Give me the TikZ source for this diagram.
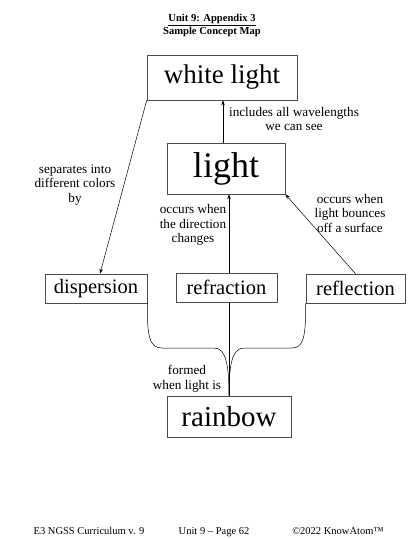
\documentclass[tikz,border=0pt]{standalone}
\usepackage{fontspec}
\setmainfont{Liberation Serif}
\usetikzlibrary{arrows.meta}
\def\fs#1#2{\fontsize{#1}{#2}\selectfont}

\begin{document}
\begin{tikzpicture}[x=1pt,y=-1pt,
		concept/.style={draw=black!70, line width=0.6pt, inner sep=0pt, align=center},
		note/.style={align=center, font=\fs{13.2}{14.5}},
		foot/.style={anchor=base, font=\fs{10.5}{12}},
		link/.style={line width=0.5pt, -{Stealth[length=5pt,width=3.5pt]}},
		brace/.style={line width=0.5pt}]
			%%%%% START %%%%%
			\useasboundingbox (0,0) rectangle (418,539);
			
			% heading
			\node[font=\bfseries\fs{10.6}{13}, align=center] (title) at (212,25) {\underline{Unit 9: Appendix 3}\\Sample Concept Map};
			
			% concepts
			\node[concept, minimum width=150, minimum height=45, font=\fs{27}{30}] (white) at (222,77.5) {white light};
			\node[concept, minimum width=118, minimum height=51, font=\fs{36}{38}] (light) at (226,168.5) {light};
			\node[concept, minimum width=102, minimum height=29, font=\fs{20.5}{22}] (disp) at (96,288.5) {dispersion};
			\node[concept, minimum width=101, minimum height=29, font=\fs{20.5}{22}] (refr) at (226.5,287.5) {refraction};
			\node[concept, minimum width=99, minimum height=29, font=\fs{20.5}{22}] (refl) at (355.5,288.5) {reflection};
			\node[concept, minimum width=124, minimum height=41, font=\fs{29}{31}] (rain) at (229,416.5) {rainbow};
			
			% links
			\draw[link] ([xshift=-3]light.north) -- ([xshift=-3]light.north |- white.south);
			\draw[link] (white.south west) -- ([xshift=4]disp.north);
			\draw[link] ([xshift=2.5]refr.north) -- ([xshift=2.5]refr.north |- light.south);
			\draw[link] (refl.north) -- (light.south east);
			
			\draw[brace] (rain.north |- refr.south) -- (rain.north);
			\draw[brace] (disp.south east) .. controls (147,338) and (150,348) .. (162,348) -- (214,348) .. controls (226,348) and (229,365) .. (rain.north);
			\draw[brace] (refl.south west) .. controls (306,338) and (303,348) .. (292,348) -- (244,348) .. controls (232,348) and (229,365) .. (rain.north);
			
			% link words
			\node[note] (n1) at (294,119) {includes all wavelengths\\we can see};
			\node[note] (n2) at (75,185) {separates into\\different colors\\by};
			\node[note] (n3) at (193,225) {occurs when\\the direction\\changes};
			\node[note] (n4) at (350,213) {occurs when\\light bounces\\off a surface};
			\node[note] (n5) at (187,379) {formed\\when light is};
			
			% footer
			\node[foot] (foot1) at (89,534) {E3 NGSS Curriculum v. 9};
			\node[foot] (foot2) at (214,534) {Unit 9 – Page 62};
			\node[foot] (foot3) at (338,534) {©2022 KnowAtom™};
			%%%%% END %%%%%
\end{tikzpicture}
\end{document}
